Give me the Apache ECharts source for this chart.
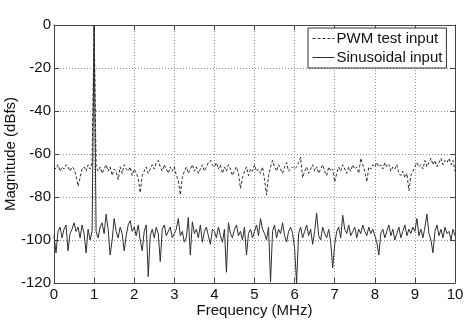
<!DOCTYPE html>
<html>
<head>
<meta charset="utf-8">
<script src="https://cdn.jsdelivr.net/npm/echarts@6/dist/echarts.min.js"></script>
<style>
  html, body { margin: 0; padding: 0; background: #fff; }
  #chart { width: 474px; height: 326px; }
</style>
</head>
<body>
<div id="chart"></div>
<script>
// Spectrum samples every 0.05 MHz from 0 to 10 MHz (one row per MHz, last value is 10 MHz)
const freqStepMHz = 0.05;

const pwmTestInput = [
  -66, -67, -65, -68, -66, -67, -65, -66, -68, -66, -67, -70, -75, -71, -67, -66, -68, -65, -67, -64,
  0, -66, -68, -66, -69, -67, -65, -68, -66, -70, -67, -68, -72, -66, -69, -65, -67, -68, -66, -70,
  -67, -69, -71, -78, -70, -68, -66, -69, -67, -65, -67, -64, -63, -66, -68, -65, -67, -69, -66, -68,
  -66, -70, -72, -79, -71, -68, -66, -69, -67, -65, -68, -66, -69, -67, -65, -68, -66, -64, -63, -65,
  -66, -64, -67, -65, -69, -66, -68, -65, -67, -70, -68, -66, -69, -76, -71, -68, -66, -70, -67, -68,
  -65, -68, -67, -69, -66, -72, -79, -70, -66, -63, -66, -68, -65, -67, -69, -66, -64, -68, -67, -66,
  -67, -66, -64, -61.5, -71, -68, -66, -69, -67, -65, -68, -66, -69, -67, -65, -68, -70, -66, -68, -67,
  -73, -69, -66, -68, -65, -67, -69, -66, -68, -65, -67, -66, -69, -62, -65, -68, -73, -66, -67, -65,
  -66, -64, -66, -65, -67, -64, -66, -65, -68, -66, -67, -65, -69, -70, -68, -71, -69, -77, -70, -68,
  -66, -64, -66, -65, -67, -63, -66, -64, -62, -65, -63, -66, -64, -62, -65, -63, -64, -62, -65, -63,
  -68
];

const sinusoidalInput = [
  -98, -106, -96, -94, -99, -95, -93, -105, -97, -95, -92, -96, -94, -99, -93, -97, -106, -95, -100, -96,
  0, -96, -99, -94, -92, -97, -88, -95, -107, -100, -90, -96, -99, -94, -97, -105, -98, -93, -91, -96,
  -94, -98, -93, -100, -105, -96, -93, -117, -98, -95, -99, -94, -97, -110, -95, -93, -98, -96, -94, -99,
  -97, -95, -90, -98, -96, -101, -99, -89.5, -107, -91.5, -97, -95, -99, -93, -101, -96, -94, -98, -102, -95,
  -96, -99, -94, -98, -101, -95, -115, -92, -97, -99, -95, -93, -98, -96, -100, -94, -107, -97, -95, -99,
  -96, -93, -98, -90, -95, -97, -100, -94, -119.5, -96, -93, -99, -95, -97, -92, -98, -101, -96, -94, -97,
  -104, -120, -97, -94, -99, -96, -93, -98, -95, -102, -96, -87.5, -98, -100, -94, -97, -99, -95, -101, -113,
  -102, -96, -94, -99, -88.5, -95, -97, -93, -98, -96, -94, -99, -95, -97, -93, -96, -98, -94, -97, -95,
  -98, -101, -107, -97, -95, -99, -96, -93, -98, -95, -100, -97, -94, -99, -96, -93, -98, -95, -97, -94,
  -96, -90, -98, -95, -99, -94, -88, -97, -100, -106, -96, -93, -98, -95, -99, -94, -97, -96, -100, -95,
  -98
];

const seriesNames = ['PWM test input', 'Sinusoidal input'];
const xTicks = { min: 0, max: 10, interval: 1 };
const yTicks = { min: -120, max: 0, interval: 20 };

function toPairs(values) {
  return values.map((v, i) => [Math.round(i * freqStepMHz * 100) / 100, v]);
}

const FONT = 'Liberation Sans, Arial, sans-serif';
const INK = '#111';
const FRAME = '#444';
const GRID = { color: '#8a8a8a', width: 1, type: [1, 2] };

function frameAxis(extra) {
  return Object.assign({
    type: 'value',
    axisLine: { show: true, onZero: false, lineStyle: { color: FRAME, width: 1 } },
    axisTick: { show: true, inside: true, length: 5, lineStyle: { color: FRAME } },
    axisLabel: { show: false },
    splitLine: { show: false }
  }, extra);
}

const chart = echarts.init(document.getElementById('chart'), null, { renderer: 'canvas' });

chart.setOption({
  animation: false,
  backgroundColor: '#fff',
  textStyle: { fontFamily: FONT },
  grid: { left: 54, top: 25, right: 19, bottom: 43, containLabel: false, outerBoundsMode: 'none' },
  legend: {
    data: seriesNames,
    orient: 'vertical',
    left: 308,
    top: 28,
    itemWidth: 22,
    itemHeight: 10,
    itemGap: 4,
    padding: [3, 4, 3, 4],
    backgroundColor: '#fff',
    borderColor: '#333',
    borderWidth: 1,
    borderRadius: 0,
    itemStyle: { opacity: 0 },
    lineStyle: { width: 1 },
    textStyle: { fontFamily: FONT, fontSize: 15, color: INK, padding: [0, 0, 0, -3] }
  },
  xAxis: [
    frameAxis(Object.assign({
      position: 'bottom',
      name: 'Frequency (MHz)',
      nameLocation: 'middle',
      nameGap: 20,
      nameMoveOverlap: false,
      nameTextStyle: { fontFamily: FONT, fontSize: 15, color: INK },
      axisLabel: { show: true, fontFamily: FONT, fontSize: 15, color: INK, margin: 4 },
      splitLine: { show: true, lineStyle: GRID }
    }, xTicks)),
    frameAxis(Object.assign({ position: 'top' }, xTicks))
  ],
  yAxis: [
    frameAxis(Object.assign({
      position: 'left',
      name: 'Magnitude (dBfs)',
      nameLocation: 'middle',
      nameGap: 36,
      nameMoveOverlap: false,
      nameTextStyle: { fontFamily: FONT, fontSize: 15, color: INK },
      axisLabel: { show: true, fontFamily: FONT, fontSize: 15, color: INK, margin: 3 },
      splitLine: { show: true, lineStyle: GRID }
    }, yTicks)),
    frameAxis(Object.assign({ position: 'right' }, yTicks))
  ],
  series: [
    {
      name: seriesNames[0],
      type: 'line',
      data: toPairs(pwmTestInput),
      symbol: 'none',
      showSymbol: false,
      color: '#2e2e2e',
      lineStyle: { color: '#2e2e2e', width: 1, type: [3, 2] },
      z: 3
    },
    {
      name: seriesNames[1],
      type: 'line',
      data: toPairs(sinusoidalInput),
      symbol: 'none',
      showSymbol: false,
      color: '#2e2e2e',
      lineStyle: { color: '#2e2e2e', width: 1, type: 'solid' },
      z: 4
    }
  ]
});
</script>
</body>
</html>
